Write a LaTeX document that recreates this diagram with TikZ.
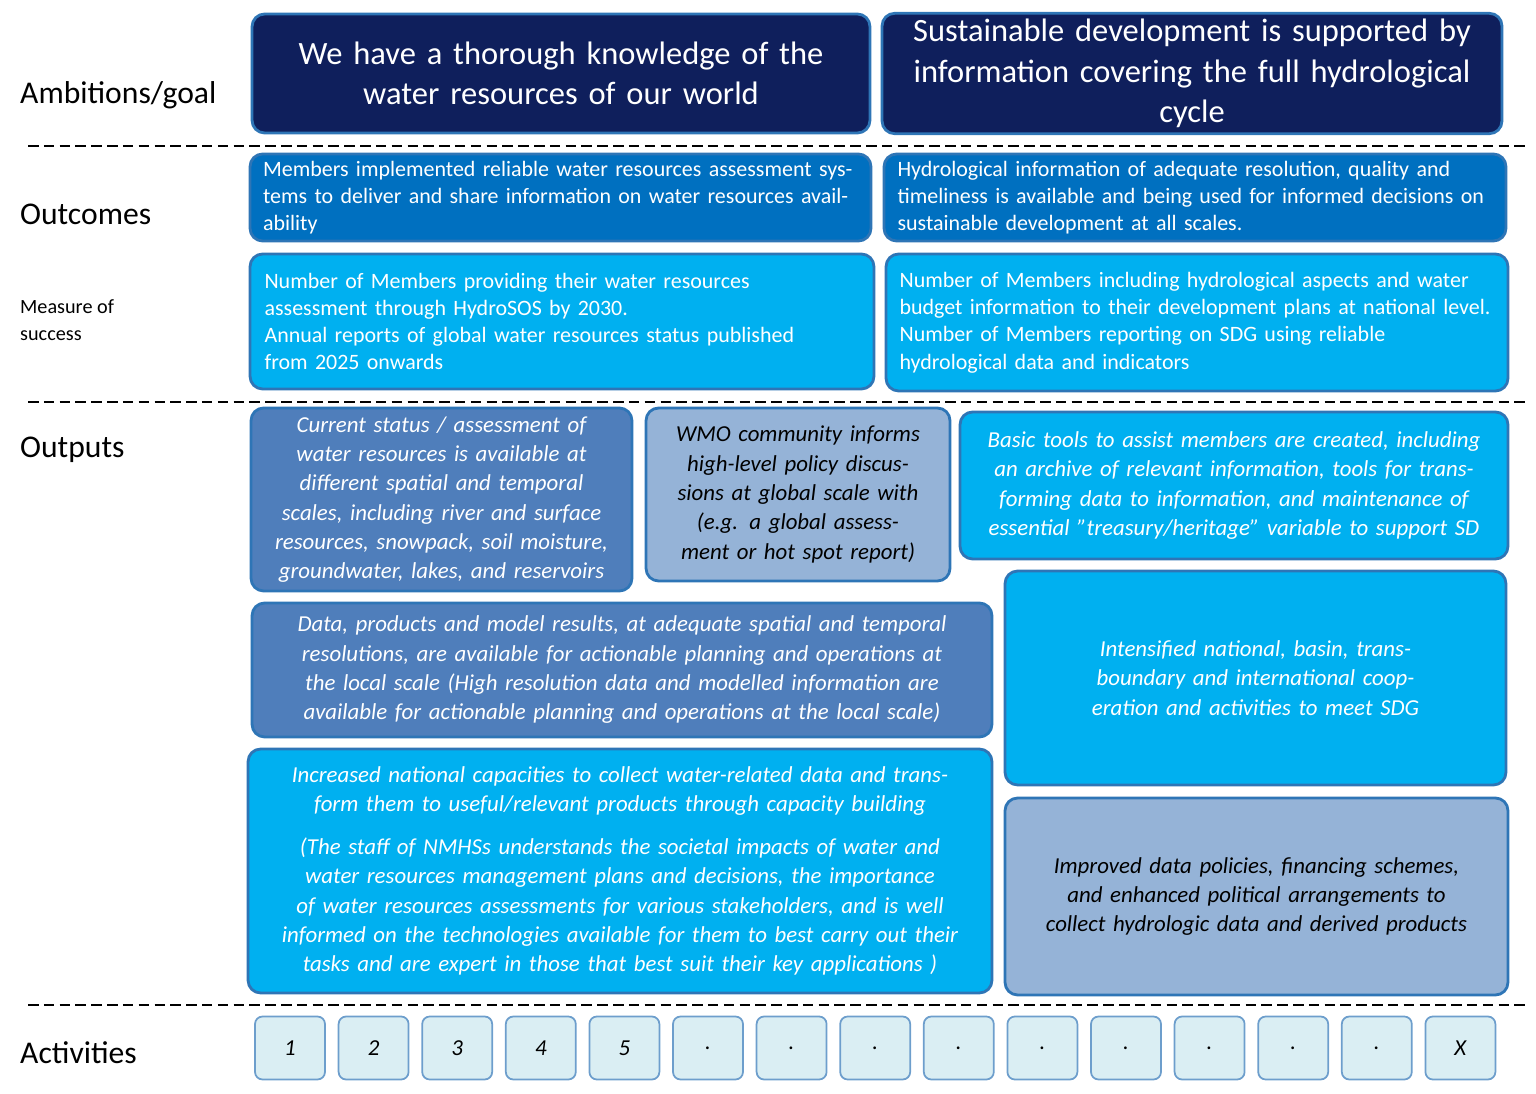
\documentclass[tikz,border=0pt]{standalone}
\usepackage{fontspec}
\setmainfont{Carlito}
\usetikzlibrary{positioning}
\definecolor{navy}{HTML}{0F1F5C}
\definecolor{midblue}{HTML}{0070C0}
\definecolor{skyblue}{HTML}{00B0F0}
\definecolor{steelblue}{HTML}{4F7EBB}
\definecolor{paleblue}{HTML}{95B3D7}
\definecolor{edgeblue}{HTML}{2E75B6}
\definecolor{actfill}{HTML}{DAEEF3}
\begin{document}
\begin{tikzpicture}[x=0.02cm,y=-0.02cm]
\tikzstyle{box}=[draw=edgeblue,line width=1.6pt,rounded corners=0.25cm,text=white,align=center]
\tikzstyle{goal}=[box,fill=navy,font=\fontsize{18.5}{23}\selectfont]
\tikzstyle{outcome}=[box,fill=midblue,align=left,font=\fontsize{12.5}{15.3}\selectfont]
\tikzstyle{measure}=[box,fill=skyblue,align=left,font=\fontsize{12.5}{15.5}\selectfont]
\tikzstyle{output}=[box,font=\fontsize{13}{16.7}\selectfont\itshape]
\tikzstyle{activity}=[draw=edgeblue!70,line width=1pt,rounded corners=0.15cm,fill=actfill,
  minimum width=1.4cm,minimum height=1.26cm,font=\fontsize{13}{16}\selectfont\itshape]
\tikzstyle{rowlabel}=[anchor=west,font=\fontsize{18}{22}\selectfont]
\tikzstyle{sep}=[dashed,line width=1.5pt,dash pattern=on 6pt off 3pt]

\useasboundingbox (0,0) rectangle (1536,1094);

% row labels
\node[rowlabel] (lgoal) at (14,95) {Ambitions/goal};
\node[rowlabel] (lout) at (14,214) {Outcomes};
\node[rowlabel,align=left,font=\fontsize{11.5}{15.3}\selectfont] (lmeas) at (14,320) {Measure of\\success};
\node[rowlabel] (lputs) at (14,450) {Outputs};
\node[rowlabel] (lact) at (14,1053) {Activities};

% separators
\draw[sep] (28,146) -- (1528,146);
\draw[sep] (28,402) -- (1528,402);
\draw[sep] (28,1005) -- (1528,1005);

% ambitions
\node[goal,minimum width=12.36cm,minimum height=2.38cm,text width=11.8cm] (goal1) at (561,73.5)
  {We have a thorough knowledge of the\\water resources of our world};
\node[goal,minimum width=12.4cm,minimum height=2.38cm,text width=12cm] (goal2) at (1192,73.5)
  {Sustainable development is supported by\\information covering the full hydrological\\cycle};

% outcomes
\node[outcome,minimum width=12.42cm,minimum height=1.74cm,text width=11.9cm] (out1) at (560.5,197.5)
  {Members implemented reliable water resources assessment systems to deliver and share information on water resources availability};
\node[outcome,minimum width=12.44cm,minimum height=1.74cm,text width=11.9cm] (out2) at (1195,197.5)
  {Hydrological information of adequate resolution, quality and timeliness is available and being used for informed decisions on sustainable development at all scales.};

% measures of success
\node[measure,minimum width=12.48cm,minimum height=2.7cm,text width=11.9cm] (meas1) at (562,321.5)
  {Number of Members providing their water resources\\assessment through HydroSOS by 2030.\\Annual reports of global water resources status published\\from 2025 onwards};
\node[measure,minimum width=12.44cm,minimum height=2.74cm,text width=11.9cm] (meas2) at (1197,322.5)
  {Number of Members including hydrological aspects and water budget information to their development plans at national level.\\Number of Members reporting on SDG using reliable\\hydrological data and indicators};

% outputs
\node[output,fill=steelblue,minimum width=7.62cm,minimum height=3.66cm,text width=7.1cm] (outa) at (441.5,499.5)
  {Current status / assessment of water resources is available at different spatial and temporal scales, including river and surface resources, snowpack, soil moisture, groundwater, lakes, and reservoirs};
\node[output,fill=paleblue,text=black,minimum width=6.08cm,minimum height=3.46cm,text width=5.4cm] (outb) at (798,494.5)
  {WMO community informs high-level policy discussions at global scale with (e.g. a global assessment or hot spot report)};
\node[output,fill=skyblue,minimum width=10.96cm,minimum height=2.94cm,text width=10.4cm] (outc) at (1234,485.5)
  {Basic tools to assist members are created, including an archive of relevant information, tools for transforming data to information, and maintenance of essential "treasury/heritage" variable to support SD};
\node[output,fill=steelblue,minimum width=14.8cm,minimum height=2.68cm,text width=14.3cm] (outd) at (622,670)
  {Data, products and model results, at adequate spatial and temporal resolutions, are available for actionable planning and operations at the local scale (High resolution data and modelled information are available for actionable planning and operations at the local scale)};
\node[output,fill=skyblue,minimum width=10.02cm,minimum height=4.28cm,text width=9.2cm] (oute) at (1255.5,678)
  {Intensified national, basin, transboundary and international cooperation and activities to meet SDG\\[2.2em]};
\node[output,fill=skyblue,minimum width=14.88cm,minimum height=4.88cm,text width=14.2cm] (outf) at (620,871)
  {Increased national capacities to collect water-related data and transform them to useful/relevant products through capacity building\\[0.6em]
   (The staff of NMHSs understands the societal impacts of water and water resources management plans and decisions, the importance of water resources assessments for various stakeholders, and is well informed on the technologies available for them to best carry out their tasks and are expert in those that best suit their key applications )};
\node[output,fill=paleblue,text=black,minimum width=10.06cm,minimum height=3.94cm,text width=9.2cm] (outg) at (1256.5,896.5)
  {Improved data policies, financing schemes, and enhanced political arrangements to collect hydrologic data and derived products};

% activities
\foreach \lab [count=\i from 0] in {1,2,3,4,5,.,.,.,.,.,.,.,.,.,X}
  \node[activity] (act\i) at (290+83.6*\i,1048) {\lab};
\end{tikzpicture}
\end{document}
